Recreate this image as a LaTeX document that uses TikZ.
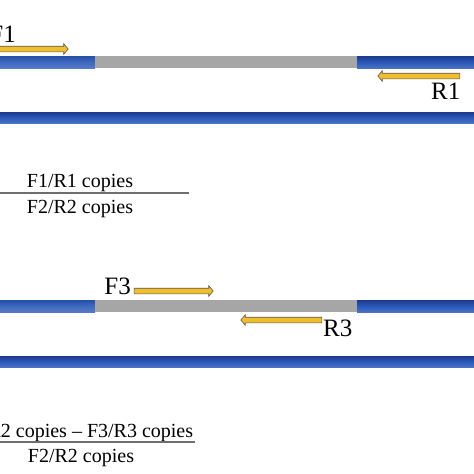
\documentclass[tikz,border=0pt]{standalone}
\usepackage{fontspec}
\setmainfont{Liberation Serif}
\usetikzlibrary{shapes.arrows,positioning}

\definecolor{dnablue}{RGB}{42,88,185}
\definecolor{dnadark}{RGB}{28,58,140}
\definecolor{dnagray}{RGB}{166,166,166}
\definecolor{primer}{RGB}{240,190,45}
\definecolor{primerline}{RGB}{90,90,90}
\definecolor{ruleline}{RGB}{110,110,110}

\begin{document}
\begin{tikzpicture}[x=1pt,y=-1pt,
	primerfw/.style={single arrow,fill=primer,draw=primerline,line width=0.6pt,
		inner sep=2.5pt,single arrow head extend=2.5pt,single arrow tip angle=100,
		minimum width=10pt},
	primerrv/.style={primerfw,shape border rotate=180},
	lbl/.style={inner sep=0pt,font=\fontsize{25}{28}\selectfont},
	frac/.style={inner sep=0pt,font=\fontsize{20}{24}\selectfont,anchor=base},
	strand/.style={top color=dnadark,bottom color=dnablue!85!white,middle color=dnablue},
	strandlight/.style={top color=dnablue!90!black,bottom color=dnablue!80!white,middle color=dnablue!90!white}]
			\useasboundingbox (0,0) rectangle (474,474);
			\clip (0,0) rectangle (474,474);
			% first amplicon
			\shade[strandlight] (-5,56) rectangle (95,68);
			\fill[dnagray] (95,56) rectangle (357,68);
			\shade[strand] (357,56) rectangle (480,68);
			\shade[strand] (-5,112) rectangle (480,123);
			\node[primerfw,minimum height=72pt] (f1) at (31,49) {};
			\node[primerrv,minimum height=82pt] (r1) at (420,76) {};
			\node[lbl,anchor=base east] (f1lbl) at (16,42) {F1};
			\node[lbl,anchor=base west] (r1lbl) at (431,99) {R1};
			% ratio 1
			\node[frac] (num1) at (80,187) {F1/R1 copies};
			\node[frac] (den1) at (80,213) {F2/R2 copies};
			\coordinate (bar1l) at (-30,193);
			\coordinate (bar1r) at (189,193);
			\draw[ruleline,line width=1.2pt] (bar1l) -- (bar1r);
			% second amplicon
			\shade[strandlight] (-5,300) rectangle (95,312);
			\fill[dnagray] (95,300) rectangle (357,312);
			\shade[strand] (357,300) rectangle (480,312);
			\shade[strand] (-5,356) rectangle (480,367);
			\node[primerfw,minimum height=79pt] (f3) at (172.5,291) {};
			\node[primerrv,minimum height=81pt] (r3) at (282.5,320) {};
			\node[lbl,anchor=base east] (f3lbl) at (131,294) {F3};
			\node[lbl,anchor=base west] (r3lbl) at (323,336) {R3};
			% ratio 2
			\node[frac] (num2) at (77,437) {F2/R2 copies -- F3/R3 copies};
			\node[frac] (den2) at (81,462) {F2/R2 copies};
			\coordinate (bar2l) at (-40,442);
			\coordinate (bar2r) at (195,442);
			\draw[ruleline,line width=1.2pt] (bar2l) -- (bar2r);
		\end{tikzpicture}
\end{document}
